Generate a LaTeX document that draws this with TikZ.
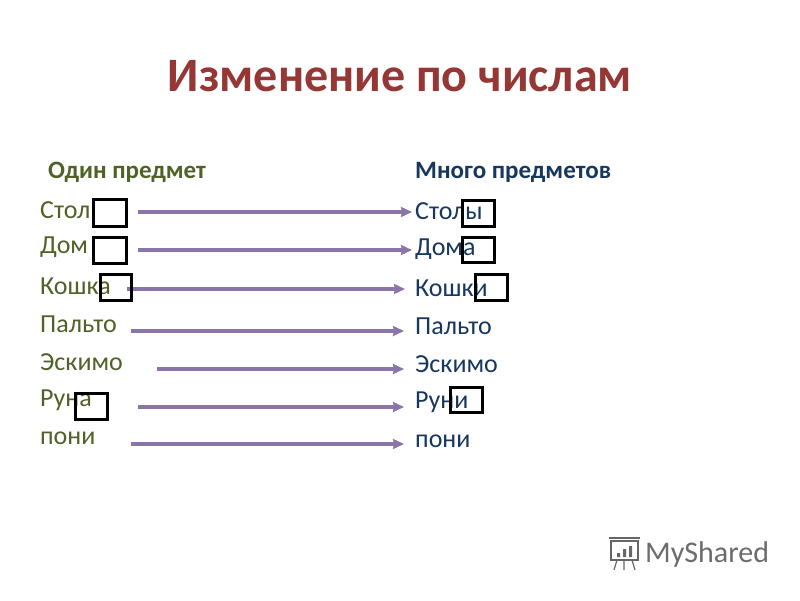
\documentclass[tikz,border=0pt]{standalone}
\usepackage{fontspec}
\setmainfont{Carlito}
\usetikzlibrary{arrows.meta}
\begin{document}
\begin{tikzpicture}[x=1pt,y=-1pt,
  lt/.style={anchor=west,inner sep=0pt,font=\fontsize{26}{28}\selectfont,text=lgreen},
  rt/.style={anchor=west,inner sep=0pt,font=\fontsize{26}{28}\selectfont,text=rblue},
  arr/.style={draw=arrc,line width=3.2pt,-{Stealth[length=11pt,width=10pt,inset=1pt]}},
  bx/.style={draw=black,line width=3pt}]
\definecolor{lgreen}{HTML}{4F6228}
\definecolor{rblue}{HTML}{17375E}
\definecolor{arrc}{HTML}{8A74A8}
\definecolor{ttl}{HTML}{953735}
\useasboundingbox (0,0) rectangle (800,600);
\fill[white] (0,0) rectangle (800,600);
\node[font=\bfseries\fontsize{48}{50}\selectfont,text=ttl] (title) at (400,76) {Изменение по числам};
\node[lt,font=\bfseries\fontsize{25}{27}\selectfont] (hl) at (48,172) {Один предмет};
\node[rt,font=\bfseries\fontsize{25}{27}\selectfont] (hr) at (415,172) {Много предметов};
\foreach \n/\t/\y in {1/Стол/210,2/Дом/247,3/Кошка/286,4/Пальто/324,5/Эскимо/362,6/Руна/400,7/пони/438}
  \node[lt] (l\n) at (40,\y) {\t};
\foreach \n/\t/\y in {1/Столы/211,2/Дома/249,3/Кошки/288,4/Пальто/326,5/Эскимо/364,6/Руни/402,7/пони/441}
  \node[rt] (r\n) at (415,\y) {\t};
\foreach \n/\xa/\xb/\y in {1/138/412/212,2/138/412/250,3/127/405/289,4/131/404/331,5/157/404/369,6/138/404/407,7/131/404/444}{
  \coordinate (s\n) at (\xa,\y); \coordinate (e\n) at (\xb,\y);
  \draw[arr] (s\n) -- (e\n);}
\draw[bx] (93,199) rectangle (126,226);
\draw[bx] (93,237) rectangle (126,263);
\draw[bx] (100,274) rectangle (131,300);
\draw[bx] (75,393) rectangle (107,419);
\draw[bx] (462,200) rectangle (494,226);
\draw[bx] (462,237) rectangle (494,262);
\draw[bx] (475,274) rectangle (507,300);
\draw[bx] (450,387) rectangle (482,412);
% logo
\begin{scope}[draw=gray!80!black,line width=1.2pt]
\draw (611,541) rectangle (638,560);
\draw (609,538) -- (640,538);
\fill[gray!80!black] (617,553) rectangle (620,557) (623,549) rectangle (626,557) (629,546) rectangle (632,557);
\draw (617,560) -- (614,570) (624,560) -- (624,570) (632,560) -- (635,570);
\end{scope}
\node[anchor=west,inner sep=0pt,font=\fontsize{30}{32}\selectfont,text=gray!85!black] (logo) at (645,554) {MyShared};
\end{tikzpicture}
\end{document}
